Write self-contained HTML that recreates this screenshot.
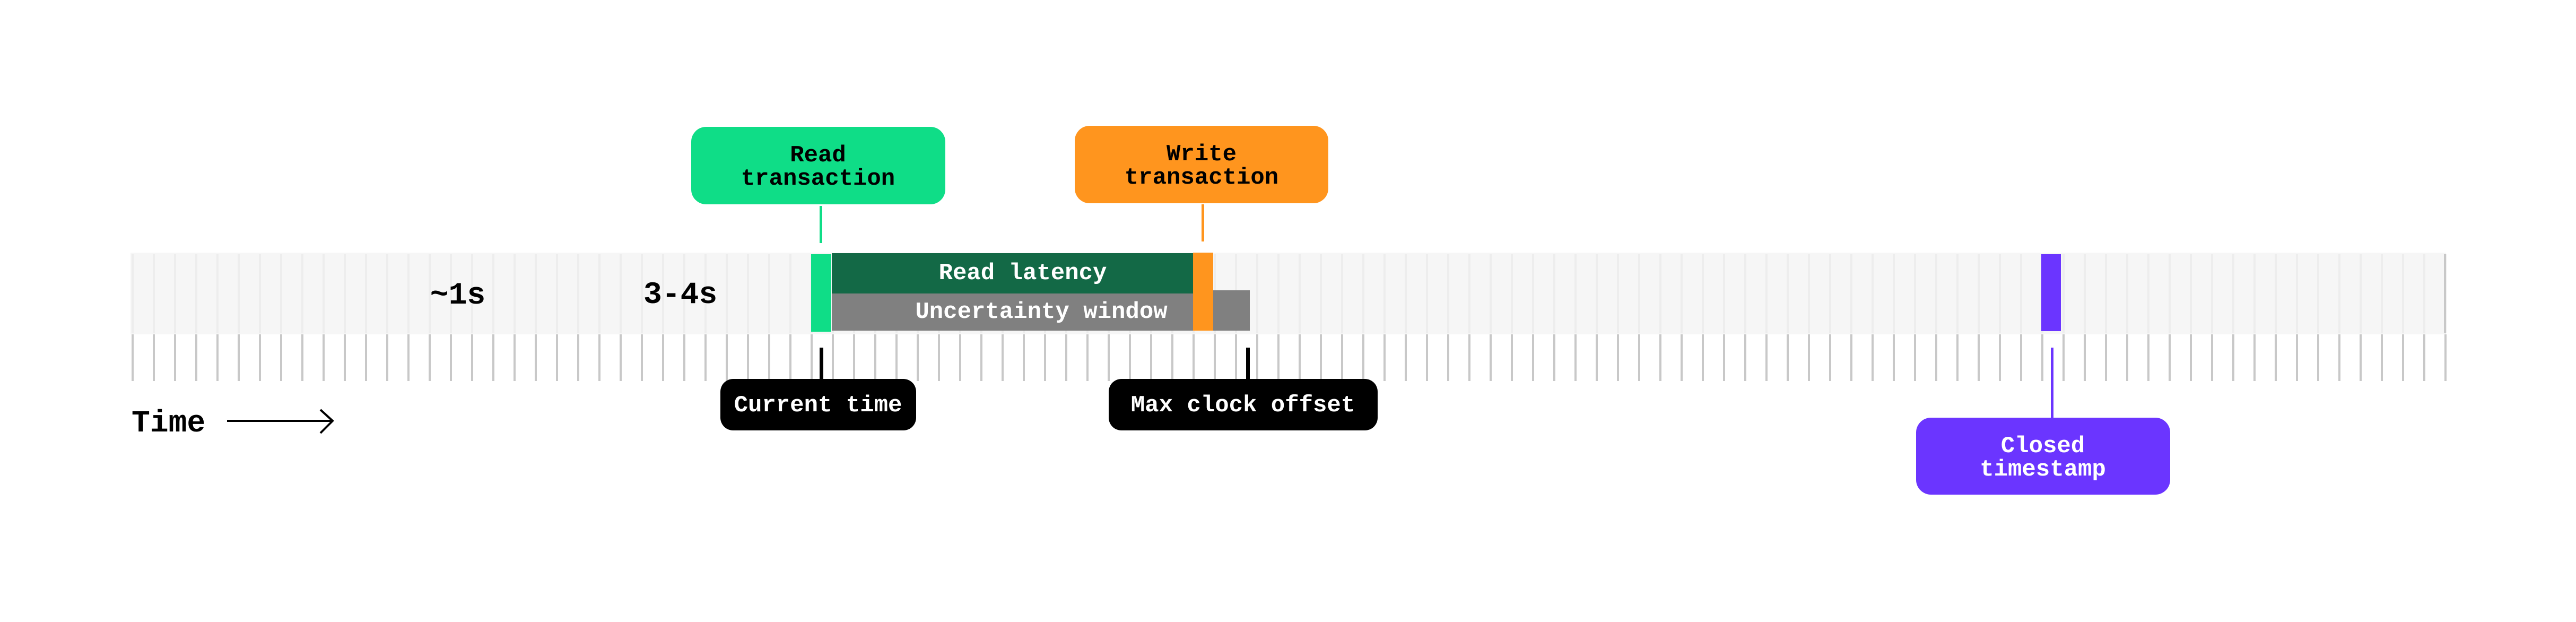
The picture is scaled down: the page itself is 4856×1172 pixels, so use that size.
<!DOCTYPE html>
<html><head><meta charset="utf-8"><style>
html,body{margin:0;padding:0;background:#fff;}
svg{display:block;}
text{font-family:"Liberation Mono","DejaVu Sans Mono",monospace;font-weight:bold;}
</style></head><body>
<svg width="4856" height="1172" viewBox="0 0 4856 1172" xmlns="http://www.w3.org/2000/svg">
<defs>
<pattern id="pin" patternUnits="userSpaceOnUse" x="248" y="0" width="40" height="1172">
<rect x="0" y="0" width="4" height="1172" fill="#ededed"/>
</pattern>
<pattern id="pout" patternUnits="userSpaceOnUse" x="248" y="0" width="40" height="1172">
<rect x="0" y="0" width="4" height="1172" fill="#c8c8c8"/>
</pattern>
</defs>
<rect width="4856" height="1172" fill="#fff"/>
<!-- band -->
<rect x="246" y="476" width="4365" height="154" fill="#f6f6f6"/>
<rect x="248" y="479" width="4364" height="149" fill="url(#pin)"/>
<rect x="248" y="630" width="4364" height="88" fill="url(#pout)"/>
<rect x="4607" y="479" width="4" height="149" fill="#c8c8c8"/>
<!-- bars -->
<rect x="1529" y="479" width="38" height="146" fill="#0fdd87"/>
<rect x="1568" y="477" width="681" height="76" fill="#136946"/>
<rect x="1568" y="553" width="681" height="70" fill="#808080"/>
<rect x="2287" y="547" width="69" height="76" fill="#808080"/>
<rect x="2249" y="476" width="38" height="147" fill="#ff951e"/>
<rect x="3848" y="479" width="37" height="145" fill="#6b35ff"/>
<text x="1928" y="526" font-size="44" fill="#fff" text-anchor="middle">Read latency</text>
<text x="1963" y="599" font-size="44" fill="#fff" text-anchor="middle">Uncertainty window</text>
<text x="863" y="572" font-size="58" fill="#000" text-anchor="middle">~1s</text>
<text x="1213" y="571" font-size="58" fill="#000">3-4s</text>
<!-- Time -->
<text x="248" y="813" font-size="58" fill="#000">Time</text>
<line x1="428" y1="793" x2="626" y2="793" stroke="#000" stroke-width="4"/>
<polyline points="604,772 627,793 604,816" fill="none" stroke="#000" stroke-width="4"/>
<!-- connectors -->
<rect x="1545" y="388" width="5" height="70" fill="#0fdd87"/>
<rect x="2265" y="385" width="5" height="70" fill="#ff951e"/>
<rect x="1545" y="655" width="7" height="60" fill="#000"/>
<rect x="2349" y="655" width="7" height="60" fill="#000"/>
<rect x="3866" y="655" width="5" height="132" fill="#6b35ff"/>
<!-- boxes -->
<rect x="1303" y="239" width="479" height="146" rx="28" fill="#0fdd87"/>
<text x="1542" y="304" font-size="44" fill="#000" text-anchor="middle">Read</text>
<text x="1542" y="348" font-size="44" fill="#000" text-anchor="middle">transaction</text>
<rect x="2026" y="237" width="478" height="146" rx="28" fill="#ff951e"/>
<text x="2265" y="302" font-size="44" fill="#000" text-anchor="middle">Write</text>
<text x="2265" y="346" font-size="44" fill="#000" text-anchor="middle">transaction</text>
<rect x="1358" y="714" width="369" height="97" rx="24" fill="#000"/>
<text x="1542" y="775" font-size="44" fill="#fff" text-anchor="middle">Current time</text>
<rect x="2090" y="714" width="507" height="97" rx="24" fill="#000"/>
<text x="2343" y="775" font-size="44" fill="#fff" text-anchor="middle">Max clock offset</text>
<rect x="3612" y="787" width="479" height="145" rx="28" fill="#6b35ff"/>
<text x="3851" y="852" font-size="44" fill="#fff" text-anchor="middle">Closed</text>
<text x="3851" y="896" font-size="44" fill="#fff" text-anchor="middle">timestamp</text>
</svg>
</body></html>
